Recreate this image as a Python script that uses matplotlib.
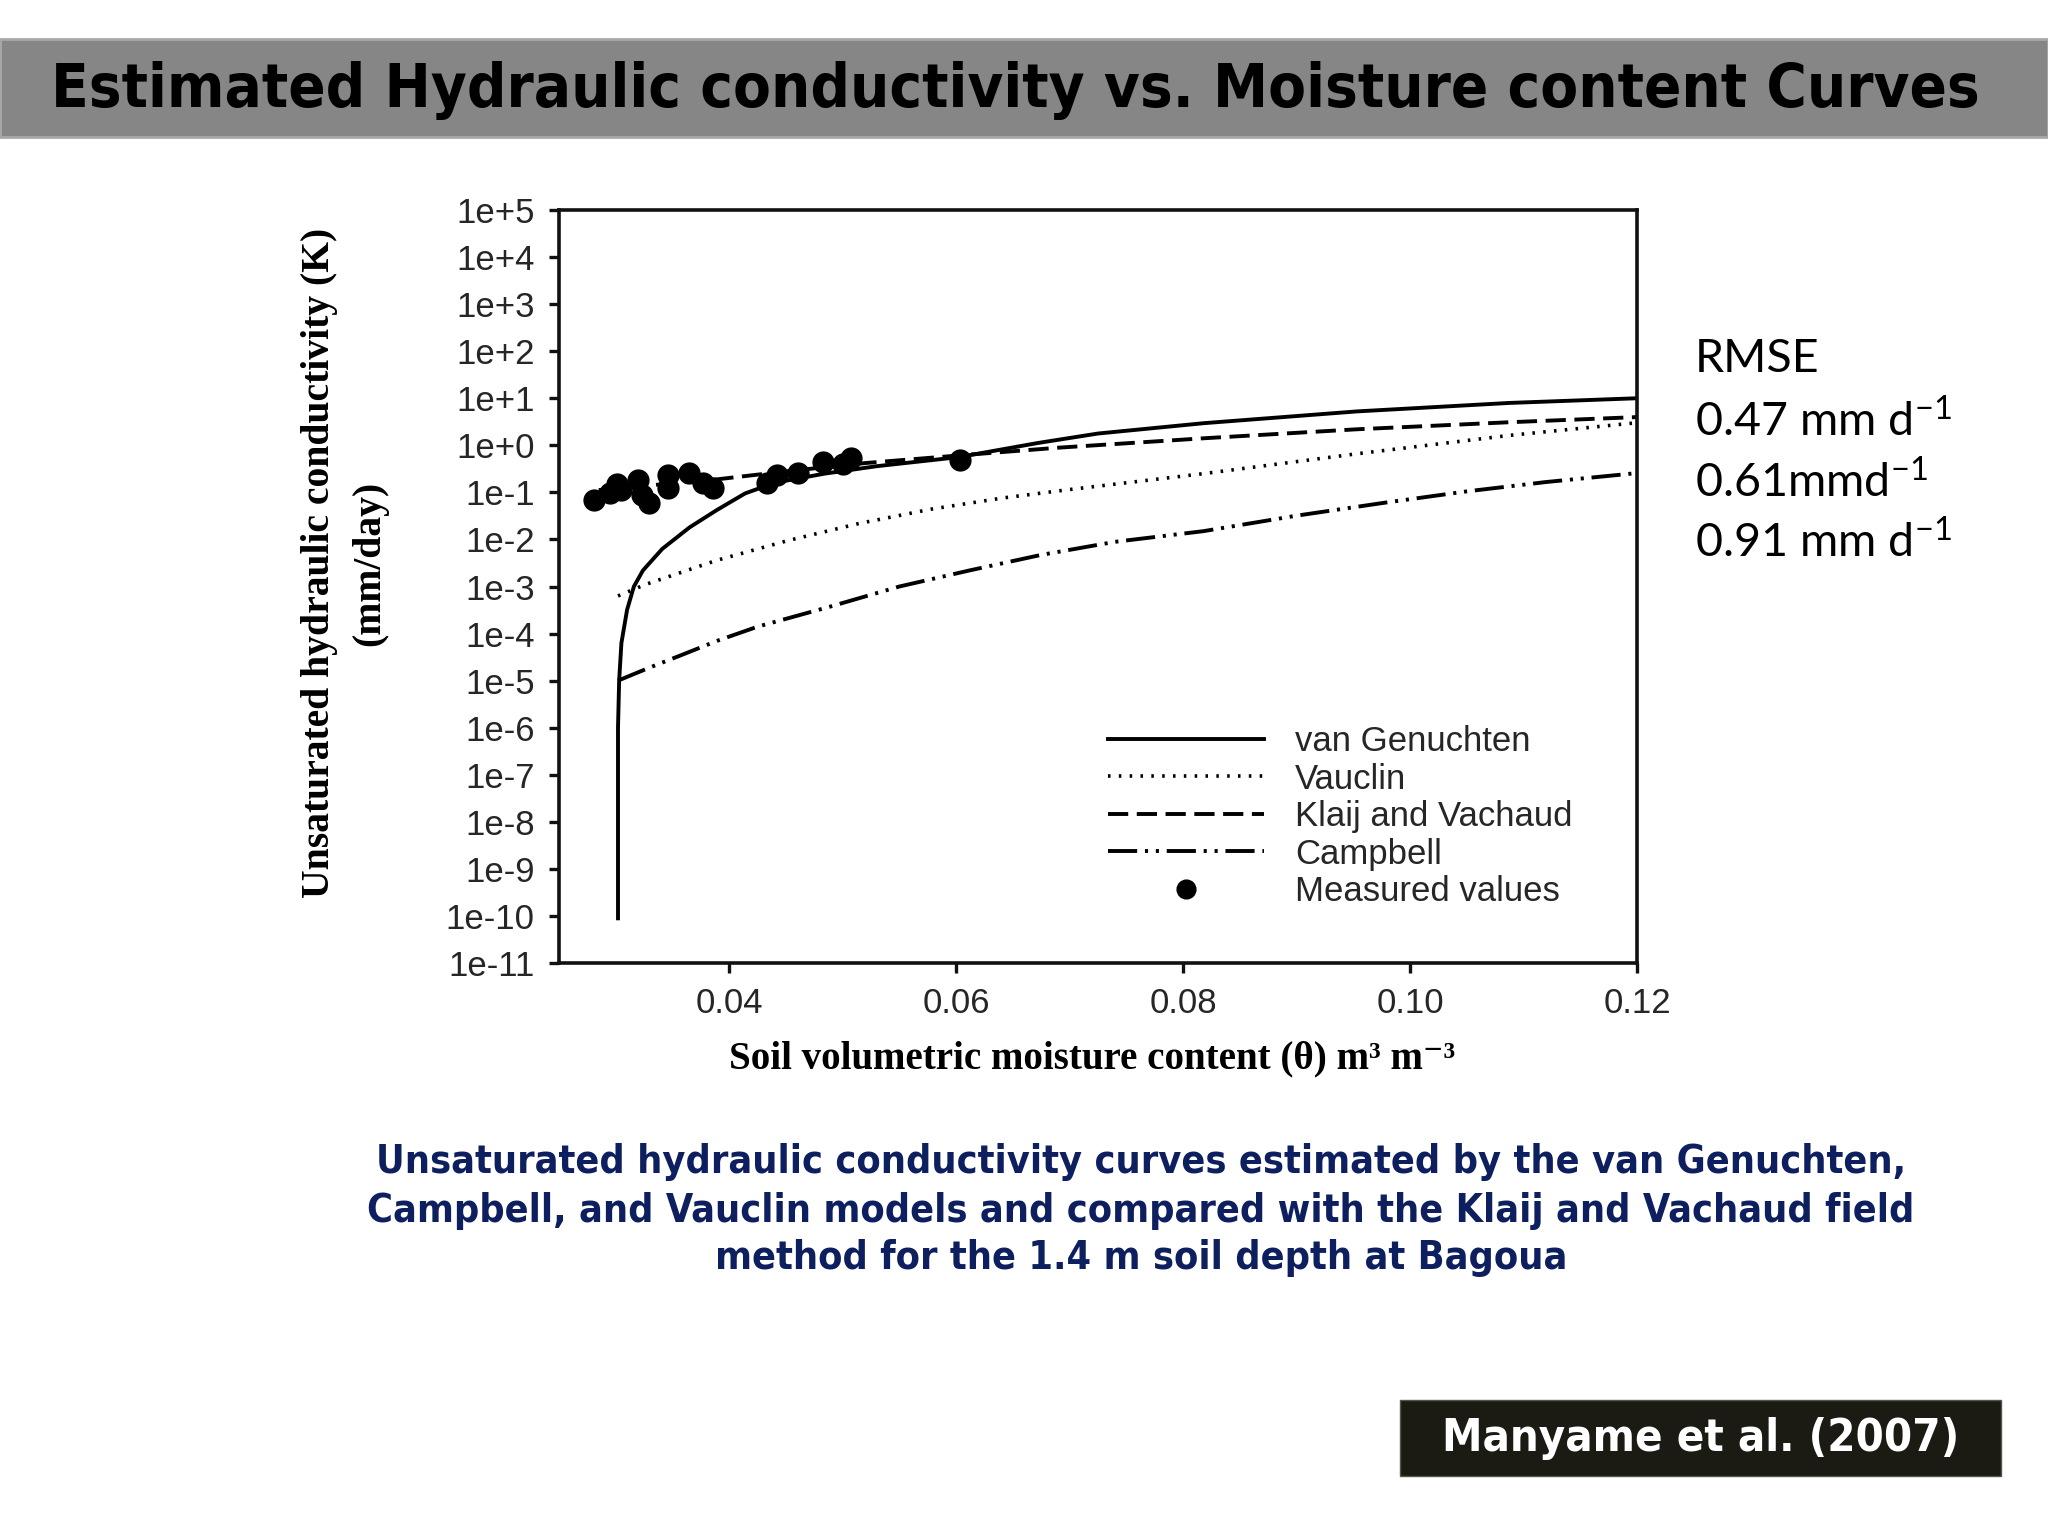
import matplotlib
matplotlib.use("Agg")
import matplotlib.pyplot as plt
from matplotlib.patches import Rectangle
from matplotlib.ticker import FixedLocator, FixedFormatter, NullLocator

# ---------------- data ----------------
vg_theta = [0.0302, 0.0302, 0.0302, 0.0303, 0.0305, 0.0310, 0.0316, 0.0324, 0.0341, 0.0365,
            0.0389, 0.0414, 0.0440, 0.0484, 0.0530, 0.0602, 0.0672, 0.0725, 0.0818, 0.0953,
            0.1087, 0.1200]
vg_K = [8.9e-11, 1e-7, 1e-6, 1e-5, 6.3e-5, 3.2e-4, 1.0e-3, 2.2e-3, 6.3e-3, 1.8e-2,
        4.2e-2, 9.5e-2, 0.16, 0.25, 0.36, 0.56, 1.12, 1.78, 2.95, 5.25, 7.94, 10.0]

vau_theta = [0.0302, 0.0326, 0.0389, 0.0452, 0.0515, 0.0578, 0.0641, 0.0700, 0.0818, 0.0953,
             0.1087, 0.1200]
vau_K = [6.3e-4, 1.1e-3, 3.6e-3, 9.5e-3, 2.2e-2, 4.4e-2, 7.6e-2, 0.115, 0.25, 0.66, 1.62, 3.02]

kv_theta = [0.0285, 0.0330, 0.0390, 0.0450, 0.0520, 0.0610, 0.0690, 0.0818, 0.0953, 0.1087, 0.1200]
kv_K = [0.112, 0.141, 0.19, 0.28, 0.42, 0.63, 0.89, 1.41, 2.19, 3.09, 3.98]

camp_theta = [0.0302, 0.0330, 0.0358, 0.0390, 0.0425, 0.0490, 0.0550, 0.0612, 0.0675, 0.0740,
              0.0818, 0.0900, 0.0977, 0.1050, 0.1120, 0.1200]
camp_K = [1.0e-5, 1.9e-5, 3.5e-5, 7.1e-5, 1.4e-4, 3.8e-4, 1.0e-3, 2.2e-3, 4.7e-3, 8.9e-3,
          1.5e-2, 3.2e-2, 6.0e-2, 0.105, 0.166, 0.257]

meas_theta = [0.0281, 0.0295, 0.0301, 0.0305, 0.0320, 0.0323, 0.0329, 0.0346, 0.0346, 0.0365,
              0.0377, 0.0386, 0.0433, 0.0442, 0.0461, 0.0483, 0.0500, 0.0507, 0.0603]
meas_K = [0.069, 0.095, 0.151, 0.112, 0.186, 0.089, 0.059, 0.234, 0.123, 0.257,
          0.158, 0.123, 0.158, 0.234, 0.257, 0.437, 0.398, 0.55, 0.49]

series_labels = ["van Genuchten", "Vauclin", "Klaij and Vachaud", "Campbell", "Measured values"]

y_tick_values = [1e5, 1e4, 1e3, 1e2, 1e1, 1e0, 1e-1, 1e-2, 1e-3, 1e-4, 1e-5, 1e-6, 1e-7,
                 1e-8, 1e-9, 1e-10, 1e-11]
y_tick_labels = ["1e+5", "1e+4", "1e+3", "1e+2", "1e+1", "1e+0", "1e-1", "1e-2", "1e-3",
                 "1e-4", "1e-5", "1e-6", "1e-7", "1e-8", "1e-9", "1e-10", "1e-11"]
x_tick_values = [0.04, 0.06, 0.08, 0.10, 0.12]
x_tick_labels = ["0.04", "0.06", "0.08", "0.10", "0.12"]

title_text = "Estimated Hydraulic conductivity vs. Moisture content Curves"
ylabel_lines = ["Unsaturated hydraulic conductivity (K)", "(mm/day)"]
xlabel_text = "Soil volumetric moisture content (\u03b8) m\u00b3 m\u207b\u00b3"
rmse_lines = ["RMSE", "0.47 mm d$^{\\mathregular{\u22121}}$", "0.61mmd$^{\\mathregular{\u22121}}$",
              "0.91 mm d$^{\\mathregular{\u22121}}$"]
caption_lines = ["Unsaturated hydraulic conductivity curves estimated by the van Genuchten,",
                 "Campbell, and Vauclin models and compared with the Klaij and Vachaud field",
                 "method for the 1.4 m soil depth at Bagoua"]
citation_text = "Manyame et al. (2007)"

# ---------------- figure ----------------
plt.rcParams['mathtext.fontset'] = 'custom'
plt.rcParams['mathtext.rm'] = 'Lato'
plt.rcParams['mathtext.it'] = 'Lato:italic'
plt.rcParams['mathtext.bf'] = 'Lato:bold'

W, H = 2048, 1536
fig = plt.figure(figsize=(W / 100, H / 100), dpi=100)
fig.patch.set_facecolor("white")
renderer = fig.canvas.get_renderer()


def fx(px):
    return px / W


def fy(py):
    return 1 - py / H


def fit(t, target, along="w"):
    bb = t.get_window_extent(renderer)
    cur = bb.width if along == "w" else bb.height
    t.set_fontsize(t.get_fontsize() * target / cur)


# title band
fig.patches.append(Rectangle((0, fy(137)), 1, fy(39) - fy(137), transform=fig.transFigure,
                             facecolor="#868686", edgecolor="#a8a8a8", lw=2, zorder=0))
t = fig.text(fx(1015), fy(91), title_text, ha="center", va="center", fontsize=30,
             fontweight="bold", family="DejaVu Sans", fontstretch="condensed", color="black")
fit(t, 1926)

# axes
ax = fig.add_axes([fx(559), fy(963), fx(1637) - fx(559), fy(210) - fy(963)])
ax.set_yscale("log")
ax.set_xlim(0.025, 0.12)
ax.set_ylim(1e-11, 1e5)

lw = 2.8
ax.plot(vg_theta, vg_K, color="black", lw=lw, ls="-", label=series_labels[0])
ax.plot(vau_theta, vau_K, color="black", lw=2.6, ls=(0, (0.7, 2.3)), label=series_labels[1])
ax.plot(kv_theta, kv_K, color="black", lw=lw, ls=(0, (5.2, 2.2)), label=series_labels[2])
ax.plot(camp_theta, camp_K, color="black", lw=lw, ls=(0, (7.5, 2.0, 0.8, 2.0, 0.8, 2.0)),
        label=series_labels[3])
ax.plot(meas_theta, meas_K, ls="none", marker="o", ms=15, color="black", label=series_labels[4],
        zorder=5)

ax.yaxis.set_major_locator(FixedLocator(y_tick_values))
ax.yaxis.set_major_formatter(FixedFormatter(y_tick_labels))
ax.yaxis.set_minor_locator(NullLocator())
ax.xaxis.set_major_locator(FixedLocator(x_tick_values))
ax.xaxis.set_major_formatter(FixedFormatter(x_tick_labels))
ax.xaxis.set_minor_locator(NullLocator())

for s in ax.spines.values():
    s.set_linewidth(2.6)
    s.set_color("#111111")
ax.tick_params(axis="both", direction="out", length=7.5, width=2.4, color="#111111",
               labelsize=25, labelcolor="#262626")
ax.tick_params(axis="y", pad=10)
ax.tick_params(axis="x", pad=10)
for lab in ax.get_xticklabels() + ax.get_yticklabels():
    lab.set_family("Liberation Sans")

leg = ax.legend(loc="upper left", bbox_to_anchor=((1107.5 - 559) / 1078, 1 - (725 - 210) / 753),
                frameon=False, prop={"family": "Liberation Sans", "size": 25},
                handlelength=4.5, handletextpad=0.9, labelspacing=0.13, borderpad=0,
                borderaxespad=0, numpoints=1, markerscale=0.9)
for txt in leg.get_texts():
    txt.set_color("#262626")

# y label (two lines, serif bold, rotated)
t1 = fig.text(fx(320), fy(563), ylabel_lines[0], rotation=90, ha="center", va="center",
              fontsize=30, fontweight="bold", family="Liberation Serif", color="black")
fit(t1, 670, along="h")
t2 = fig.text(fx(370), fy(563), ylabel_lines[1], rotation=90, ha="center", va="center",
              fontsize=t1.get_fontsize(), fontweight="bold", family="Liberation Serif",
              color="black")

# x label
tx = fig.text(fx(1092), fy(1059), xlabel_text, ha="center", va="center", fontsize=28,
              fontweight="bold", family=["Liberation Serif", "DejaVu Serif"], color="black")
fit(tx, 727)

# RMSE block
rm_y = [359, 421, 482, 542]
rt = []
for txt, yy in zip(rmse_lines, rm_y):
    r = fig.text(fx(1695), fy(yy), txt, ha="left", va="center", fontsize=34, family="Lato",
                 color="black")
    rt.append(r)
bb = rt[1].get_window_extent(renderer)
scale = 257 / bb.width
for r in rt:
    r.set_fontsize(r.get_fontsize() * scale)

# caption
cap_y = [1162, 1211, 1258]
ct = []
for txt, yy in zip(caption_lines, cap_y):
    c = fig.text(fx(1141), fy(yy), txt, ha="center", va="center", fontsize=26,
                 fontweight="bold", family="DejaVu Sans", fontstretch="condensed",
                 color="#0e1f5f")
    ct.append(c)
bb = ct[1].get_window_extent(renderer)
scale = 1545 / bb.width
for c in ct:
    c.set_fontsize(c.get_fontsize() * scale)

# citation box
fig.patches.append(Rectangle((fx(1400), fy(1476)), fx(2001) - fx(1400), fy(1400) - fy(1476),
                             transform=fig.transFigure, facecolor="#1b1b14",
                             edgecolor="#55554a", lw=1, zorder=0))
cb = fig.text(fx(1701), fy(1439), citation_text, ha="center", va="center", fontsize=30,
              fontweight="bold", family="DejaVu Sans", fontstretch="condensed", color="white")
fit(cb, 516)

fig.savefig("out.png", dpi=100, facecolor="white")
